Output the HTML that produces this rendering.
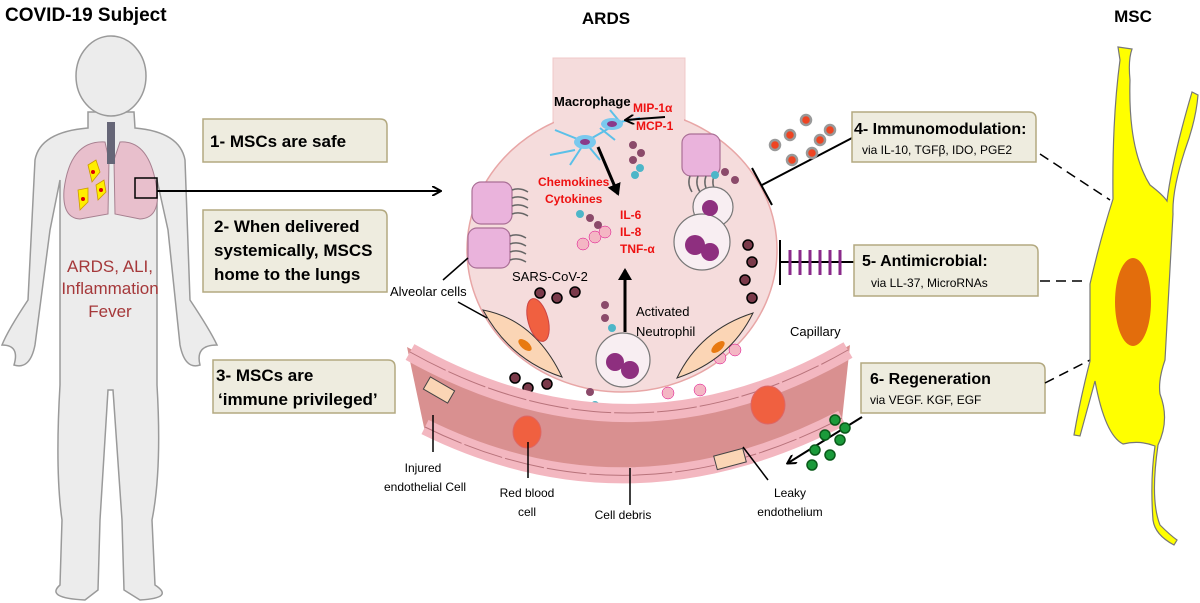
<!DOCTYPE html>
<html><head><meta charset="utf-8"><style>
html,body{margin:0;padding:0;background:#fff;width:1200px;height:603px;overflow:hidden}
svg{display:block;font-family:"Liberation Sans",sans-serif}
.b{font-weight:bold}
</style></head><body>
<svg width="1200" height="603" viewBox="0 0 1200 603" xmlns="http://www.w3.org/2000/svg">
<defs>
<marker id="ah" markerWidth="10" markerHeight="10" refX="8" refY="5" orient="auto" markerUnits="userSpaceOnUse"><path d="M0,0 L9,5 L0,10" fill="none" stroke="#000" stroke-width="2"/></marker>
<marker id="ahf" markerWidth="14" markerHeight="14" refX="10" refY="7" orient="auto" markerUnits="userSpaceOnUse"><path d="M0,0 L12,7 L0,14 Z" fill="#000"/></marker>
</defs>
<text x="5" y="21" font-size="19" class="b">COVID-19 Subject</text>
<text x="606" y="24" font-size="17" class="b" text-anchor="middle">ARDS</text>
<text x="1133" y="22" font-size="17" class="b" text-anchor="middle">MSC</text>

<g fill="#ececec" stroke="#9a9a9a" stroke-width="1.5">
<path d="M88,112 L88,128 Q40,132 35,160 L28,300 Q8,330 2,345 Q20,345 14,365 Q30,370 35,345 L50,230 L60,180 L60,385 Q55,470 62,520 L60,585 Q45,598 85,600 L98,590 L100,520 L108,390 L113,390 L122,520 L124,590 L140,600 Q175,598 155,585 L152,520 Q162,470 157,385 L157,180 L168,230 L180,345 Q185,370 200,365 Q195,345 217,345 Q210,330 190,300 L185,160 Q180,132 135,128 L134,112 Z"/>
<ellipse cx="111" cy="76" rx="35" ry="40"/>
</g>
<g fill="#e8bfcc" stroke="#a78090" stroke-width="1">
<path d="M105,142 Q70,140 64,190 Q62,218 80,219 L108,214 L109,160 Z"/>
<path d="M120,142 Q150,140 157,190 Q160,218 140,219 L115,214 L114,160 Z"/>
</g>
<rect x="107" y="122" width="8" height="42" fill="#667"/>
<g fill="#ffee00" stroke="#cc9900" stroke-width="0.8">
<path d="M88,165 L96,160 L100,172 L92,182 Z"/><path d="M96,185 L104,180 L106,192 L98,200 Z"/><path d="M78,190 L88,188 L88,202 L80,210 Z"/>
</g>
<circle cx="93" cy="172" r="2" fill="#d00"/><circle cx="101" cy="190" r="2" fill="#d00"/><circle cx="83" cy="199" r="2" fill="#d00"/>
<rect x="135" y="178" width="22" height="20" fill="none" stroke="#000" stroke-width="1.5"/>
<line x1="157" y1="191" x2="440" y2="191" stroke="#000" stroke-width="2" marker-end="url(#ah)"/>
<g fill="#a5383a" font-size="17" text-anchor="middle">
<text x="110" y="272">ARDS, ALI,</text><text x="110" y="294">Inflammation</text><text x="110" y="317">Fever</text>
</g>

<g fill="#eeecdf" stroke="#b3a980" stroke-width="1.5">
<path d="M203,119 H380 Q387,119 387,126 V162 H203 Z"/>
<path d="M203,210 H380 Q387,210 387,217 V292 H203 Z"/>
<path d="M213,360 H388 Q395,360 395,367 V413 H213 Z"/>
</g>
<g font-size="17" class="b">
<text x="210" y="147">1- MSCs are safe</text>
<text x="214" y="232">2- When delivered</text><text x="214" y="256">systemically, MSCS</text><text x="214" y="280">home to the lungs</text>
<text x="216" y="381">3- MSCs are</text><text x="218" y="405">‘immune privileged’</text>
</g>

<rect x="553" y="58" width="132" height="70" fill="#f5dcdc" stroke="#f0c8c8"/>
<ellipse cx="622" cy="250" rx="155" ry="142" fill="#f5dcdc" stroke="#e8a6a6" stroke-width="1.5"/>
<rect x="554" y="59" width="130" height="72" fill="#f5dcdc"/>
<g stroke="#5bc0e8" stroke-width="2" fill="none">
<path d="M555,130 L585,142 L620,122 M585,142 L570,165 M585,142 L600,160 M620,122 L640,118 M620,122 L610,110 M575,150 L550,155 M600,128 L615,140"/>
</g>
<ellipse cx="585" cy="142" rx="11" ry="7" fill="#7ac9ee"/><ellipse cx="585" cy="142" rx="5" ry="3" fill="#8a3a8a"/>
<ellipse cx="612" cy="124" rx="11" ry="6" fill="#7ac9ee"/><ellipse cx="612" cy="124" rx="5" ry="3" fill="#8a3a8a"/>
<text x="554" y="106" font-size="13" class="b">Macrophage</text>
<g fill="#ee1111" font-size="12" class="b"><text x="633" y="112">MIP-1α</text><text x="636" y="130">MCP-1</text>
<text x="538" y="186">Chemokines</text><text x="545" y="203">Cytokines</text>
<text x="620" y="219">IL-6</text><text x="620" y="236">IL-8</text><text x="620" y="253">TNF-α</text></g>
<line x1="665" y1="117" x2="626" y2="120" stroke="#000" stroke-width="2" marker-end="url(#ah)"/>
<line x1="598" y1="147" x2="618" y2="194" stroke="#000" stroke-width="3" marker-end="url(#ahf)"/>
<line x1="625" y1="332" x2="625" y2="270" stroke="#000" stroke-width="3" marker-end="url(#ahf)"/>
<g fill="#eab3dc" stroke="#aa6f96" stroke-width="1.2">
<rect x="472" y="182" width="40" height="42" rx="9"/><rect x="468" y="228" width="42" height="40" rx="9"/>
<rect x="682" y="134" width="38" height="42" rx="9"/>
</g>
<g stroke="#666" stroke-width="1.5" fill="none">
<path d="M512,190 q8,-3 16,2 M512,198 q8,-3 16,2 M512,206 q8,-3 16,2 M512,214 q8,-3 16,2 M510,236 q8,-3 16,2 M510,244 q8,-3 16,2 M510,252 q8,-3 16,2 M510,260 q8,-3 16,2"/>
<path d="M690,176 q-3,8 2,16 M698,176 q-3,8 2,16 M706,176 q-3,8 2,16 M714,176 q-3,8 2,16"/>
</g>
<g fill="#f8eef2" stroke="#777" stroke-width="1.2">
<circle cx="713" cy="207" r="20"/><circle cx="702" cy="242" r="28"/><circle cx="623" cy="360" r="27"/><circle cx="697" cy="437" r="17"/>
</g>
<g fill="#8e2f7f"><circle cx="710" cy="208" r="8"/><circle cx="695" cy="245" r="10"/><circle cx="710" cy="252" r="9"/><circle cx="615" cy="362" r="9"/><circle cx="630" cy="370" r="9"/><circle cx="695" cy="440" r="6"/></g>
<g fill="#8b4a6a"><circle cx="633" cy="145" r="4"/><circle cx="641" cy="153" r="4"/><circle cx="633" cy="160" r="4"/><circle cx="590" cy="218" r="4"/><circle cx="598" cy="225" r="4"/><circle cx="605" cy="318" r="4"/><circle cx="605" cy="305" r="4"/><circle cx="725" cy="172" r="4"/><circle cx="735" cy="180" r="4"/><circle cx="463" cy="385" r="4"/><circle cx="590" cy="392" r="4"/><circle cx="745" cy="440" r="4"/></g>
<g fill="#4db6c8"><circle cx="640" cy="168" r="4"/><circle cx="635" cy="175" r="4"/><circle cx="580" cy="214" r="4"/><circle cx="612" cy="328" r="4"/><circle cx="715" cy="175" r="4"/><circle cx="470" cy="400" r="4"/><circle cx="595" cy="405" r="4"/><circle cx="740" cy="452" r="4"/></g>
<g fill="#f4b6c4" stroke="#d08" stroke-width="0.5"><circle cx="595" cy="237" r="6"/><circle cx="583" cy="244" r="6"/><circle cx="605" cy="232" r="6"/><circle cx="735" cy="350" r="6"/><circle cx="720" cy="358" r="6"/><circle cx="668" cy="393" r="6"/><circle cx="700" cy="390" r="6"/></g>
<g fill="#7a3a4a" stroke="#000" stroke-width="1.5">
<circle cx="540" cy="293" r="5"/><circle cx="557" cy="298" r="5"/><circle cx="575" cy="292" r="5"/>
<circle cx="515" cy="378" r="5"/><circle cx="528" cy="388" r="5"/><circle cx="547" cy="384" r="5"/>
<circle cx="748" cy="245" r="5"/><circle cx="752" cy="262" r="5"/><circle cx="745" cy="280" r="5"/><circle cx="752" cy="298" r="5"/>
</g>
<text x="512" y="281" font-size="13">SARS-CoV-2</text>
<g fill="#fbd5b5" stroke="#333" stroke-width="1"><path d="M483,310 Q535,320 562,377 Q510,360 483,310 Z"/><path d="M753,313 Q700,330 677,378 Q730,360 753,313 Z"/></g>
<ellipse cx="525" cy="345" rx="8" ry="4" fill="#e87a10" transform="rotate(40 525 345)"/>
<ellipse cx="718" cy="347" rx="8" ry="4" fill="#e87a10" transform="rotate(-40 718 347)"/>
<ellipse cx="538" cy="320" rx="10" ry="22" fill="#f06040" stroke="#c44" transform="rotate(-15 538 320)"/>
<path d="M407,347 Q630,470 850,345 L842,420 Q630,530 425,432 Z" fill="#d99090"/>
<path d="M410,352 Q630,475 848,350" fill="none" stroke="#f3b7c0" stroke-width="18"/>
<path d="M410,352 Q630,475 848,350" fill="none" stroke="#b8737b" stroke-width="1" stroke-dasharray="40 3"/>
<path d="M425,427 Q630,528 842,418" fill="none" stroke="#f3b7c0" stroke-width="16"/>
<path d="M425,427 Q630,528 842,418" fill="none" stroke="#b8737b" stroke-width="1" stroke-dasharray="40 3"/>
<ellipse cx="527" cy="432" rx="14" ry="16" fill="#f06040" stroke="#d66"/>
<ellipse cx="768" cy="405" rx="17" ry="19" fill="#f06040" stroke="#d66"/>
<rect x="425" y="383" width="28" height="14" fill="#fbd5b5" stroke="#444" transform="rotate(30 439 390)"/>
<rect x="715" y="452" width="30" height="14" fill="#fbd5b5" stroke="#444" transform="rotate(-15 730 459)"/>
<text x="790" y="336" font-size="13">Capillary</text>
<text x="390" y="296" font-size="13">Alveolar cells</text>
<text x="636" y="316" font-size="13">Activated</text><text x="636" y="336" font-size="13">Neutrophil</text>
<g stroke="#000" stroke-width="1.5">
<line x1="443" y1="280" x2="468" y2="258"/><line x1="458" y1="302" x2="487" y2="318"/>
<line x1="433" y1="415" x2="433" y2="452"/><line x1="528" y1="442" x2="528" y2="478"/><line x1="630" y1="468" x2="630" y2="505"/><line x1="743" y1="447" x2="768" y2="480"/>
</g>
<g font-size="12" text-anchor="middle">
<text x="423" y="472">Injured</text><text x="425" y="491">endothelial Cell</text>
<text x="527" y="497">Red blood</text><text x="527" y="516">cell</text>
<text x="623" y="519">Cell debris</text>
<text x="790" y="497">Leaky</text><text x="790" y="516">endothelium</text>
</g>

<line x1="852" y1="138" x2="762" y2="185" stroke="#000" stroke-width="2"/>
<line x1="752" y1="168" x2="772" y2="205" stroke="#000" stroke-width="2"/>
<g fill="#ee4422" stroke="#999" stroke-width="2.5"><circle cx="790" cy="135" r="5"/><circle cx="806" cy="120" r="5"/><circle cx="812" cy="153" r="5"/><circle cx="830" cy="130" r="5"/><circle cx="792" cy="160" r="5"/><circle cx="775" cy="145" r="5"/><circle cx="820" cy="140" r="5"/></g>
<line x1="780" y1="240" x2="780" y2="285" stroke="#000" stroke-width="2"/>
<line x1="780" y1="262" x2="855" y2="262" stroke="#000" stroke-width="2"/>
<g stroke="#8a2a8a" stroke-width="3"><line x1="790" y1="250" x2="790" y2="275"/><line x1="800" y1="250" x2="800" y2="275"/><line x1="810" y1="250" x2="810" y2="275"/><line x1="820" y1="250" x2="820" y2="275"/><line x1="830" y1="250" x2="830" y2="275"/><line x1="840" y1="250" x2="840" y2="275"/></g>
<line x1="862" y1="417" x2="788" y2="463" stroke="#000" stroke-width="2" marker-end="url(#ah)"/>
<g fill="#1a9a3a" stroke="#0a5a1a" stroke-width="1.5"><circle cx="835" cy="420" r="5"/><circle cx="825" cy="435" r="5"/><circle cx="840" cy="440" r="5"/><circle cx="815" cy="450" r="5"/><circle cx="830" cy="455" r="5"/><circle cx="812" cy="465" r="5"/><circle cx="845" cy="428" r="5"/></g>

<g fill="#eeecdf" stroke="#b3a980" stroke-width="1.5">
<path d="M852,112 H1029 Q1036,112 1036,119 V162 H852 Z"/>
<path d="M854,245 H1031 Q1038,245 1038,252 V296 H854 Z"/>
<path d="M861,363 H1038 Q1045,363 1045,370 V413 H861 Z"/>
</g>
<text x="854" y="134" font-size="16" class="b">4- Immunomodulation:</text>
<text x="862" y="154" font-size="12">via IL-10, TGFβ, IDO, PGE2</text>
<text x="862" y="266" font-size="16" class="b">5- Antimicrobial:</text>
<text x="871" y="287" font-size="12">via LL-37, MicroRNAs</text>
<text x="870" y="384" font-size="16" class="b">6- Regeneration</text>
<text x="870" y="404" font-size="12">via VEGF. KGF, EGF</text>
<g stroke="#000" stroke-width="1.5" stroke-dasharray="10 6">
<line x1="1040" y1="154" x2="1110" y2="200"/><line x1="1040" y1="281" x2="1088" y2="281"/><line x1="1045" y1="383" x2="1090" y2="360"/>
</g>
<path d="M1118,47 L1132,49 Q1128,60 1130,80 Q1128,150 1150,185 Q1163,195 1167,201 Q1172,160 1192,92 L1198,95 Q1196,120 1185,150 Q1172,190 1173,214 Q1168,300 1165,360 Q1158,380 1160,394 Q1170,420 1158,445 Q1150,500 1160,525 Q1170,535 1177,540 L1174,545 Q1155,535 1153,520 Q1150,480 1155,446 Q1140,440 1123,444 Q1105,435 1095,381 L1080,436 L1074,435 Q1080,400 1090,361 L1090,284 Q1100,240 1113,199 Q1112,120 1120,60 Z" fill="#ffff00" stroke="#777" stroke-width="1.2"/>
<ellipse cx="1133" cy="302" rx="18" ry="44" fill="#e36d0c"/>
</svg>
</body></html>
